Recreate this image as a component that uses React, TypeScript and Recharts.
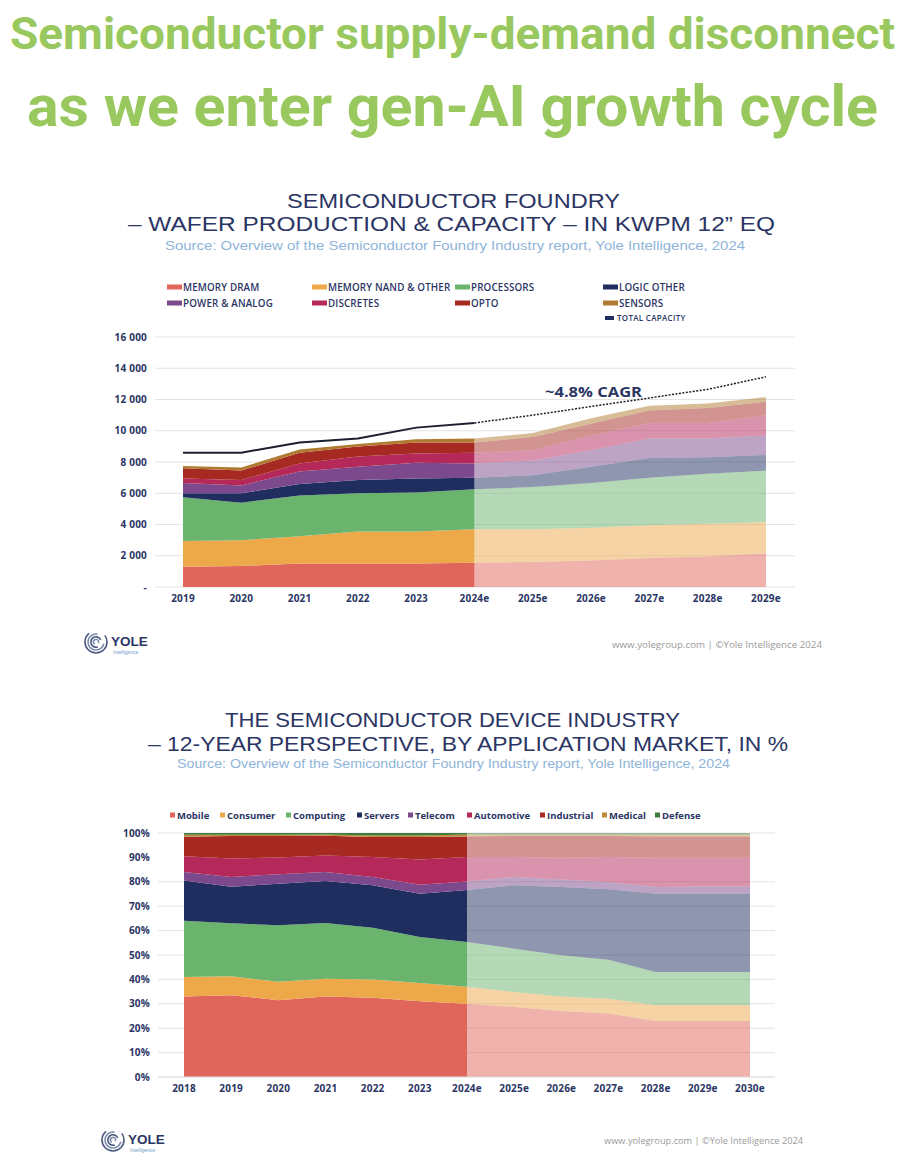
import React from 'react';
import { ComposedChart, AreaChart, Area, Line, XAxis, YAxis, CartesianGrid } from 'recharts';

// ---- foundry wafer production (kwpm 12" eq) ----
const foundryYears = ['2019', '2020', '2021', '2022', '2023', '2024e', '2025e', '2026e', '2027e', '2028e', '2029e'];
const memoryDram = [1300, 1350, 1500, 1500, 1500, 1550, 1600, 1700, 1850, 1950, 2150];
const memoryNand = [1650, 1650, 1750, 2050, 2050, 2150, 2100, 2100, 2100, 2100, 2000];
const processors = [2800, 2400, 2600, 2450, 2500, 2550, 2700, 2850, 3050, 3200, 3300];
const logicOther = [250, 600, 750, 850, 900, 750, 750, 1050, 1250, 1050, 1000];
const powerAnalog = [650, 500, 800, 850, 1000, 900, 950, 1050, 1250, 1200, 1250];
const discretes = [300, 350, 500, 650, 600, 700, 650, 950, 1000, 1000, 1300];
const opto = [650, 600, 700, 650, 700, 650, 850, 750, 800, 950, 850];
const sensors = [150, 200, 200, 150, 200, 250, 250, 350, 300, 300, 300];
const totalCapacity = [8600, 8600, 9250, 9500, 10200, 10500, 11000, 11550, 12100, 12650, 13450];
const foundryTicks = [0, 2000, 4000, 6000, 8000, 10000, 12000, 14000, 16000];

// ---- device industry by application market (%) ----
const marketYears = ['2018', '2019', '2020', '2021', '2022', '2023', '2024e', '2025e', '2026e', '2027e', '2028e', '2029e', '2030e'];
const mobile = [33, 33.5, 31.5, 33, 32.5, 31, 30, 28.7, 27, 26, 23, 23, 23];
const consumer = [8, 7.8, 7.5, 7.3, 7.5, 7.5, 7, 6.1, 6, 6.1, 6.4, 6.4, 6.4];
const computing = [23, 21.7, 23.2, 22.8, 21.2, 18.9, 18.3, 17.8, 16.9, 16, 13.6, 13.6, 13.6];
const servers = [16.5, 15, 17, 17.2, 17.4, 17.7, 21.3, 26, 28, 28.8, 32.1, 32.1, 32.1];
const telecom = [3.5, 4, 3.9, 3.7, 3.4, 3.7, 3.5, 3.4, 3, 3, 2.8, 3, 3];
const automotive = [6.5, 7.5, 6.9, 6.8, 8.2, 10.3, 10.1, 8.2, 9, 10.3, 12, 11.8, 11.8];
const industrial = [8, 9.3, 8.8, 8.1, 8.2, 9.3, 8.4, 8.6, 8.9, 8.6, 8.7, 8.7, 8.7];
const medical = [0.8, 0.5, 0.5, 0.5, 0.6, 0.6, 0.8, 0.5, 0.5, 0.5, 0.7, 0.7, 0.7];
const defense = [0.7, 0.7, 0.7, 0.6, 1.0, 1.0, 0.6, 0.7, 0.7, 0.7, 0.7, 0.7, 0.7];
const marketTicks = [0, 10, 20, 30, 40, 50, 60, 70, 80, 90, 100];

const NAVY = '#2b3564';
const FONT = "'Open Sans', 'Noto Sans', sans-serif";
const TITLE_FONT = "'Liberation Sans', Arial, sans-serif";

const foundrySeries = [
  { key: 'dram', name: 'MEMORY DRAM', color: '#e0655a', values: memoryDram },
  { key: 'nand', name: 'MEMORY NAND & OTHER', color: '#eda84a', values: memoryNand },
  { key: 'proc', name: 'PROCESSORS', color: '#6bb46d', values: processors },
  { key: 'logic', name: 'LOGIC OTHER', color: '#1f2d5f', values: logicOther },
  { key: 'power', name: 'POWER & ANALOG', color: '#7c4a8c', values: powerAnalog },
  { key: 'disc', name: 'DISCRETES', color: '#b5285a', values: discretes },
  { key: 'opto', name: 'OPTO', color: '#a62a22', values: opto },
  { key: 'sens', name: 'SENSORS', color: '#b07a30', values: sensors },
];

const marketSeries = [
  { key: 'mobile', name: 'Mobile', color: '#e0655a', values: mobile },
  { key: 'consumer', name: 'Consumer', color: '#eda84a', values: consumer },
  { key: 'computing', name: 'Computing', color: '#6bb46d', values: computing },
  { key: 'servers', name: 'Servers', color: '#1f2d5f', values: servers },
  { key: 'telecom', name: 'Telecom', color: '#7c4a8c', values: telecom },
  { key: 'automotive', name: 'Automotive', color: '#b5285a', values: automotive },
  { key: 'industrial', name: 'Industrial', color: '#a62a22', values: industrial },
  { key: 'medical', name: 'Medical', color: '#c08a3a', values: medical },
  { key: 'defense', name: 'Defense', color: '#3f7a3e', values: defense },
];

// split each series into an actual part and a forecast part that meet at 2024e
function splitRows(years: string[], series: { key: string; values: number[] }[], split: number) {
  return years.map((year, i) => {
    const row: Record<string, string | number | null> = { year };
    series.forEach((s) => {
      row[s.key + 'Hist'] = i <= split ? s.values[i] : null;
      row[s.key + 'Fcst'] = i >= split ? s.values[i] : null;
    });
    return row;
  });
}

const foundrySplit = foundryYears.indexOf('2024e');
const foundryData = splitRows(foundryYears, foundrySeries, foundrySplit).map((row, i) => ({
  ...row,
  capHist: i <= foundrySplit ? totalCapacity[i] : null,
  capFcst: i >= foundrySplit ? totalCapacity[i] : null,
}));

const marketSplit = marketYears.indexOf('2024e');
const marketData = splitRows(marketYears, marketSeries, marketSplit);

const tickStyle = { fontSize: 10, fontWeight: 700, fill: NAVY, fontFamily: FONT, letterSpacing: 0.2 };

const fmtK = (v: number) => (v === 0 ? '-' : String(v).replace(/\B(?=(\d{3})+(?!\d))/g, ' '));

function YoleLogo({ x, y }: { x: number; y: number }) {
  return (
    <g>
      {[11, 8, 5.2, 2.6].map((r, i) => (
        <circle key={r} cx={x} cy={y} r={r} fill="none" stroke={i % 2 ? '#7c8cab' : '#4a5a7e'}
          strokeWidth={1.6} strokeDasharray={`${r * 4} ${r * 1.6}`} transform={`rotate(${i * 50} ${x} ${y})`} />
      ))}
      <text x={x + 15} y={y + 4} fontFamily={TITLE_FONT} fontWeight={700} fontSize={13.5} fill={NAVY}>YOLE</text>
      <text x={x + 17} y={y + 12} fontFamily={TITLE_FONT} fontSize={5} fill="#6f9ccc">Intelligence</text>
    </g>
  );
}

const foundryLegendX = [167, 312, 455, 603];
const marketLegendX = [170, 220, 286, 357, 408, 467, 540, 602, 655];

export default function App() {
  return (
    <div style={{ position: 'absolute', left: 0, top: 0, width: 908, height: 1170, background: '#fff' }}>
      <div style={{ position: 'absolute', left: 100, top: 330 }}>
        <ComposedChart width={710} height={290} data={foundryData} margin={{ top: 7, right: 15, bottom: 3, left: 5 }}>
          <CartesianGrid vertical={false} stroke="#e3e3e3" />
          <XAxis dataKey="year" scale="point" padding={{ left: 28, right: 29 }} axisLine={false} tickLine={false}
            tick={tickStyle} height={30} interval={0} />
          <YAxis domain={[0, 16000]} ticks={foundryTicks} width={50} axisLine={false} tickLine={false}
            tick={tickStyle} tickFormatter={fmtK} />
          {foundrySeries.map((s) => (
            <Area key={s.key + 'H'} type="linear" dataKey={s.key + 'Hist'} stackId="hist" stroke="none"
              fill={s.color} fillOpacity={1} isAnimationActive={false} />
          ))}
          {foundrySeries.map((s) => (
            <Area key={s.key + 'F'} type="linear" dataKey={s.key + 'Fcst'} stackId="fcst" stroke="none"
              fill={s.color} fillOpacity={0.5} isAnimationActive={false} />
          ))}
          <Line type="linear" dataKey="capHist" stroke="#1c1f2e" strokeWidth={2} dot={false} isAnimationActive={false} />
          <Line type="linear" dataKey="capFcst" stroke="#1c1f2e" strokeWidth={1.5} strokeDasharray="2 1.5"
            dot={false} isAnimationActive={false} />
        </ComposedChart>
      </div>

      <div style={{ position: 'absolute', left: 100, top: 826 }}>
        <AreaChart width={690} height={284} data={marketData} margin={{ top: 7, right: 15, bottom: 3, left: 8 }}>
          <CartesianGrid vertical={false} stroke="#e3e3e3" />
          <XAxis dataKey="year" scale="point" padding={{ left: 26, right: 25 }} axisLine={{ stroke: '#e3e3e3' }}
            tickLine={false} tick={tickStyle} height={30} interval={0} />
          <YAxis domain={[0, 100]} ticks={marketTicks} width={50} axisLine={false} tickLine={false}
            tick={tickStyle} tickFormatter={(v: number) => `${v}%`} allowDataOverflow />
          {marketSeries.map((s) => (
            <Area key={s.key + 'H'} type="linear" dataKey={s.key + 'Hist'} stackId="hist" stroke="none"
              fill={s.color} fillOpacity={1} isAnimationActive={false} />
          ))}
          {marketSeries.map((s) => (
            <Area key={s.key + 'F'} type="linear" dataKey={s.key + 'Fcst'} stackId="fcst" stroke="none"
              fill={s.color} fillOpacity={0.5} isAnimationActive={false} />
          ))}
        </AreaChart>
      </div>

      <svg width={908} height={1170} style={{ position: 'absolute', left: 0, top: 0, pointerEvents: 'none' }}>
        <g fontFamily="Roboto, 'Liberation Sans', sans-serif" fontWeight={700} fill="#99c95e">
          <text x={10} y={49} fontSize={45} textLength={885} lengthAdjust="spacingAndGlyphs">
            Semiconductor supply-demand disconnect
          </text>
          <text x={27} y={126} fontSize={58} textLength={851} lengthAdjust="spacingAndGlyphs">
            as we enter gen-AI growth cycle
          </text>
        </g>

        <g fontFamily={TITLE_FONT} fill={NAVY}>
          <text x={287} y={208} fontSize={20.5} textLength={333} lengthAdjust="spacingAndGlyphs">SEMICONDUCTOR FOUNDRY</text>
          <text x={128} y={231} fontSize={20.5} textLength={647} lengthAdjust="spacingAndGlyphs">
            – WAFER PRODUCTION &amp; CAPACITY – IN KWPM 12” EQ
          </text>
          <text x={165} y={250} fontSize={12} fill="#8fb4d9" textLength={580} lengthAdjust="spacingAndGlyphs">
            Source: Overview of the Semiconductor Foundry Industry report, Yole Intelligence, 2024
          </text>

          <text x={225} y={727} fontSize={21} textLength={455} lengthAdjust="spacingAndGlyphs">THE SEMICONDUCTOR DEVICE INDUSTRY</text>
          <text x={148} y={751} fontSize={21} textLength={640} lengthAdjust="spacingAndGlyphs">
            – 12-YEAR PERSPECTIVE, BY APPLICATION MARKET, IN %
          </text>
          <text x={177} y={767.5} fontSize={12} fill="#8fb4d9" textLength={553} lengthAdjust="spacingAndGlyphs">
            Source: Overview of the Semiconductor Foundry Industry report, Yole Intelligence, 2024
          </text>
        </g>

        {/* foundry legend */}
        <g fontFamily={FONT} fontSize={9.8} fontWeight={600} fill={NAVY} letterSpacing={0.15}>
          {foundrySeries.map((s, i) => {
            const x = foundryLegendX[i % 4];
            const y = i < 4 ? 287 : 303;
            return (
              <g key={s.key}>
                <rect x={x} y={y - 2.5} width={15} height={5} fill={s.color} />
                <text x={x + 16} y={y + 3.5}>{s.name}</text>
              </g>
            );
          })}
          <rect x={605} y={316} width={9} height={4} fill="#1f2d5f" />
          <text x={617} y={321} fontSize={8} letterSpacing={0.3}>TOTAL CAPACITY</text>
        </g>

        <text x={545} y={397} fontFamily={FONT} fontWeight={700} fontSize={15} fill={NAVY}
          textLength={97} lengthAdjust="spacingAndGlyphs">~4.8% CAGR</text>

        {/* market legend */}
        <g fontFamily={FONT} fontSize={9.5} fontWeight={700} fill={NAVY}>
          {marketSeries.map((s, i) => (
            <g key={s.key}>
              <rect x={marketLegendX[i]} y={812.5} width={5} height={5} fill={s.color} />
              <text x={marketLegendX[i] + 7} y={818.5}>{s.name}</text>
            </g>
          ))}
        </g>

        <YoleLogo x={96} y={642} />
        <text x={612} y={648} fontFamily={FONT} fontSize={9} fill="#9a9a9a" textLength={210} lengthAdjust="spacingAndGlyphs">
          www.yolegroup.com | ©Yole Intelligence 2024
        </text>
        <YoleLogo x={113} y={1140} />
        <text x={604} y={1144} fontFamily={FONT} fontSize={9} fill="#9a9a9a" textLength={199} lengthAdjust="spacingAndGlyphs">
          www.yolegroup.com | ©Yole Intelligence 2024
        </text>
      </svg>
    </div>
  );
}
